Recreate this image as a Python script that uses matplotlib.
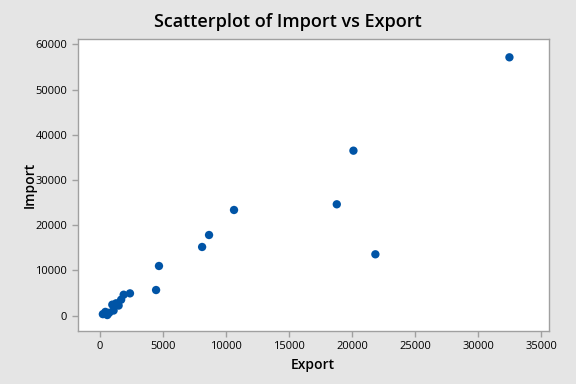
import matplotlib
matplotlib.use('Agg')
from matplotlib import pyplot as plt

# values
export_vals = [250, 450, 600, 750, 1000, 1100, 1300, 1500, 1700, 1900, 2400,
               4470, 4700, 8120, 8670, 10650, 18800, 20120, 21860, 32490]
import_vals = [300, 800, 100, 600, 2400, 1100, 2700, 2200, 3500, 4600, 4900,
               5640, 10960, 15170, 17820, 23360, 24620, 36490, 13550, 57160]

x_ticks = [0, 5000, 10000, 15000, 20000, 25000, 30000, 35000]
y_ticks = [0, 10000, 20000, 30000, 40000, 50000, 60000]

plt.rcParams['font.family'] = ['Open Sans', 'DejaVu Sans']

fig = plt.figure(figsize=(5.76, 3.84), dpi=100)
fig.patch.set_facecolor('#e5e5e5')
ax = fig.add_axes([0.1349, 0.1388, 0.8174, 0.7596])
ax.set_facecolor('white')

ax.scatter(export_vals, import_vals, s=36, color='#0054a6', edgecolors='none', zorder=3)

ax.set_xlim(-1745, 35590)
ax.set_ylim(-3365, 61210)
ax.set_xticks(x_ticks)
ax.set_yticks(y_ticks)
ax.set_xticklabels([str(t) for t in x_ticks])
ax.set_yticklabels([str(t) for t in y_ticks])

for s in ax.spines.values():
    s.set_color('#a0a0a0')
    s.set_linewidth(1.0)
ax.tick_params(axis='both', colors='#a0a0a0', labelcolor='black', labelsize=8,
               length=4, width=1, direction='out')

ax.set_xlabel('Export', fontsize=10, fontweight='semibold', labelpad=4)
ax.set_ylabel('Import', fontsize=10, fontweight='semibold')
ax.yaxis.set_label_coords(-0.088, 0.5)
fig.suptitle('Scatterplot of Import vs Export', fontsize=13, fontweight='semibold', y=0.965)

plt.savefig('out.png', dpi=100, facecolor=fig.get_facecolor())
